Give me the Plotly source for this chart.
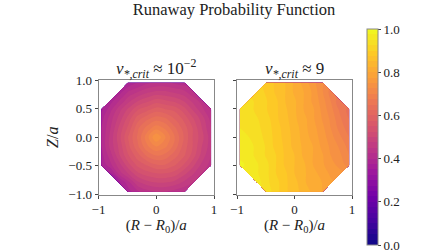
import plotly.graph_objects as go

# grid coordinates (normalised R and Z)
grid_r = [-0.95, -0.79, -0.63, -0.475, -0.32, -0.16, 0.0, 0.16, 0.32, 0.475, 0.63, 0.79, 0.95]
grid_z = [-0.95, -0.79, -0.63, -0.475, -0.32, -0.16, 0.0, 0.16, 0.32, 0.475, 0.63, 0.79, 0.95]

N = None
# runaway probability, nu_crit ~ 1e-2 (rows: Z from bottom to top)
prob_low = [
    [N, N, N, 0.39, 0.42, 0.44, 0.45, 0.45, 0.44, 0.43, N, N, N],
    [N, N, 0.37, 0.42, 0.47, 0.49, 0.50, 0.50, 0.49, 0.47, 0.45, N, N],
    [N, 0.37, 0.44, 0.48, 0.52, 0.54, 0.55, 0.55, 0.54, 0.51, 0.48, 0.45, N],
    [0.38, 0.42, 0.47, 0.52, 0.56, 0.58, 0.60, 0.60, 0.58, 0.55, 0.51, 0.47, 0.44],
    [0.39, 0.44, 0.50, 0.55, 0.59, 0.63, 0.65, 0.64, 0.61, 0.58, 0.54, 0.49, 0.45],
    [0.40, 0.46, 0.51, 0.57, 0.62, 0.67, 0.70, 0.68, 0.64, 0.59, 0.55, 0.50, 0.46],
    [0.40, 0.46, 0.52, 0.58, 0.63, 0.69, 0.75, 0.70, 0.65, 0.60, 0.55, 0.51, 0.46],
    [0.40, 0.45, 0.51, 0.56, 0.62, 0.66, 0.69, 0.67, 0.63, 0.59, 0.55, 0.50, 0.45],
    [0.39, 0.44, 0.49, 0.54, 0.59, 0.62, 0.64, 0.63, 0.60, 0.57, 0.53, 0.49, 0.44],
    [0.37, 0.42, 0.47, 0.51, 0.55, 0.57, 0.59, 0.58, 0.57, 0.54, 0.50, 0.46, 0.42],
    [N, 0.39, 0.43, 0.47, 0.50, 0.52, 0.54, 0.53, 0.52, 0.50, 0.47, 0.44, N],
    [N, N, 0.39, 0.43, 0.45, 0.47, 0.48, 0.48, 0.47, 0.46, 0.43, N, N],
    [N, N, N, 0.38, 0.40, 0.42, 0.43, 0.43, 0.42, 0.41, N, N, N],
]

# runaway probability, nu_crit ~ 9
prob_high = [
    [N, N, N, 0.94, 0.91, 0.88, 0.86, 0.84, 0.82, 0.80, N, N, N],
    [N, N, 0.96, 0.93, 0.91, 0.88, 0.86, 0.83, 0.81, 0.80, 0.78, N, N],
    [N, 0.97, 0.95, 0.93, 0.90, 0.88, 0.85, 0.83, 0.81, 0.79, 0.77, 0.76, N],
    [0.98, 0.97, 0.95, 0.93, 0.90, 0.87, 0.85, 0.83, 0.80, 0.78, 0.76, 0.74, 0.71],
    [0.97, 0.96, 0.94, 0.92, 0.90, 0.87, 0.85, 0.82, 0.80, 0.78, 0.75, 0.73, 0.70],
    [0.97, 0.96, 0.94, 0.92, 0.89, 0.87, 0.84, 0.82, 0.80, 0.77, 0.745, 0.72, 0.69],
    [0.96, 0.95, 0.935, 0.915, 0.89, 0.865, 0.84, 0.815, 0.79, 0.765, 0.735, 0.705, 0.675],
    [0.95, 0.94, 0.93, 0.91, 0.89, 0.86, 0.84, 0.81, 0.785, 0.76, 0.725, 0.69, 0.66],
    [0.95, 0.94, 0.925, 0.91, 0.88, 0.86, 0.83, 0.81, 0.78, 0.75, 0.72, 0.68, 0.65],
    [0.94, 0.93, 0.92, 0.90, 0.88, 0.855, 0.83, 0.80, 0.78, 0.745, 0.71, 0.67, 0.64],
    [N, 0.93, 0.92, 0.90, 0.88, 0.85, 0.83, 0.80, 0.77, 0.74, 0.70, 0.655, N],
    [N, N, 0.91, 0.895, 0.87, 0.85, 0.82, 0.80, 0.77, 0.73, 0.69, N, N],
    [N, N, N, 0.89, 0.87, 0.85, 0.82, 0.79, 0.76, 0.73, N, N, N],
]

panel_titles = ["<i>ν</i><sub><i>*,crit</i></sub> ≈ 10<sup>−2</sup>",
                "<i>ν</i><sub><i>*,crit</i></sub> ≈ 9"]
x_ticks = [-1, 0, 1]
y_ticks = [-1.0, -0.5, 0.0, 0.5, 1.0]
cbar_ticks = [0.0, 0.2, 0.4, 0.6, 0.8, 1.0]

FONT = "Liberation Serif"
TXT = "#222222"
W, H = 448, 252

contour_common = dict(
    colorscale="Plasma", zmin=0, zmax=1, zauto=False,
    contours=dict(start=0, end=1, size=0.025, coloring="fill", showlines=False),
    line=dict(width=0), connectgaps=False, hoverinfo="skip",
)

fig = go.Figure()
fig.add_trace(go.Contour(
    x=grid_r, y=grid_z, z=prob_low, xaxis="x", yaxis="y",
    showscale=True,
    colorbar=dict(
        x=367 / W, xanchor="left", xpad=0, ypad=0,
        y=1 - 137 / H, yanchor="middle",
        len=216 / H, lenmode="fraction",
        thickness=11, thicknessmode="pixels",
        outlinewidth=1, outlinecolor="#888888",
        tickmode="array", tickvals=cbar_ticks,
        ticktext=[f"{v:.1f}" for v in cbar_ticks],
        ticklabeloverflow="allow",
        ticks="outside", ticklen=3, tickcolor="#444444",
        tickfont=dict(family=FONT, size=13, color=TXT),
    ),
    **contour_common,
))
fig.add_trace(go.Contour(
    x=grid_r, y=grid_z, z=prob_high, xaxis="x2", yaxis="y2",
    showscale=False, **contour_common,
))

axis_common = dict(
    range=[-1, 1], showgrid=False, zeroline=False,
    showline=True, mirror=True, linecolor="#888888", linewidth=1,
    ticks="outside", ticklen=3, tickcolor="#444444",
    tickfont=dict(family=FONT, size=13, color=TXT),
)

y0 = 1 - 194.5 / H
y1 = 1 - 80 / H
xlab = "(<i>R</i> − <i>R</i><sub>0</sub>)/<i>a</i>"
fig.update_layout(
    width=W, height=H, margin=dict(l=0, r=0, t=0, b=0, autoexpand=False),
    paper_bgcolor="white", plot_bgcolor="white",
    showlegend=False,
    font=dict(family=FONT, color=TXT),
    title=dict(text="Runaway Probability Function", x=234 / W, xanchor="center",
               y=1 - 9 / H, yanchor="middle", font=dict(family=FONT, size=16.5, color=TXT)),
    xaxis=dict(domain=[98.5 / W, 214 / W], anchor="y", tickvals=x_ticks,
               title=dict(text=xlab, standoff=2, font=dict(family=FONT, size=15)), **axis_common),
    yaxis=dict(domain=[y0, y1], anchor="x", tickvals=y_ticks, tickformat=".1f",
               title=dict(text="<i>Z</i>/<i>a</i>", standoff=5, font=dict(family=FONT, size=16)),
               **axis_common),
    xaxis2=dict(domain=[237 / W, 352 / W], anchor="y2", tickvals=x_ticks,
                title=dict(text=xlab, standoff=2, font=dict(family=FONT, size=15)), **axis_common),
    yaxis2=dict(domain=[y0, y1], anchor="x2", tickvals=y_ticks, showticklabels=False,
                **axis_common),
    annotations=[
        dict(text=panel_titles[0], x=(98.5 + 214) / 2 / W, y=y1, xref="paper", yref="paper",
             xanchor="center", yanchor="bottom", yshift=-3, showarrow=False,
             font=dict(family=FONT, size=17, color=TXT)),
        dict(text=panel_titles[1], x=(237 + 352) / 2 / W, y=y1, xref="paper", yref="paper",
             xanchor="center", yanchor="bottom", yshift=-3, showarrow=False,
             font=dict(family=FONT, size=17, color=TXT)),
    ],
)

fig.write_html("out.html", config={"displayModeBar": False},
               post_script="document.body.style.margin='0';")
